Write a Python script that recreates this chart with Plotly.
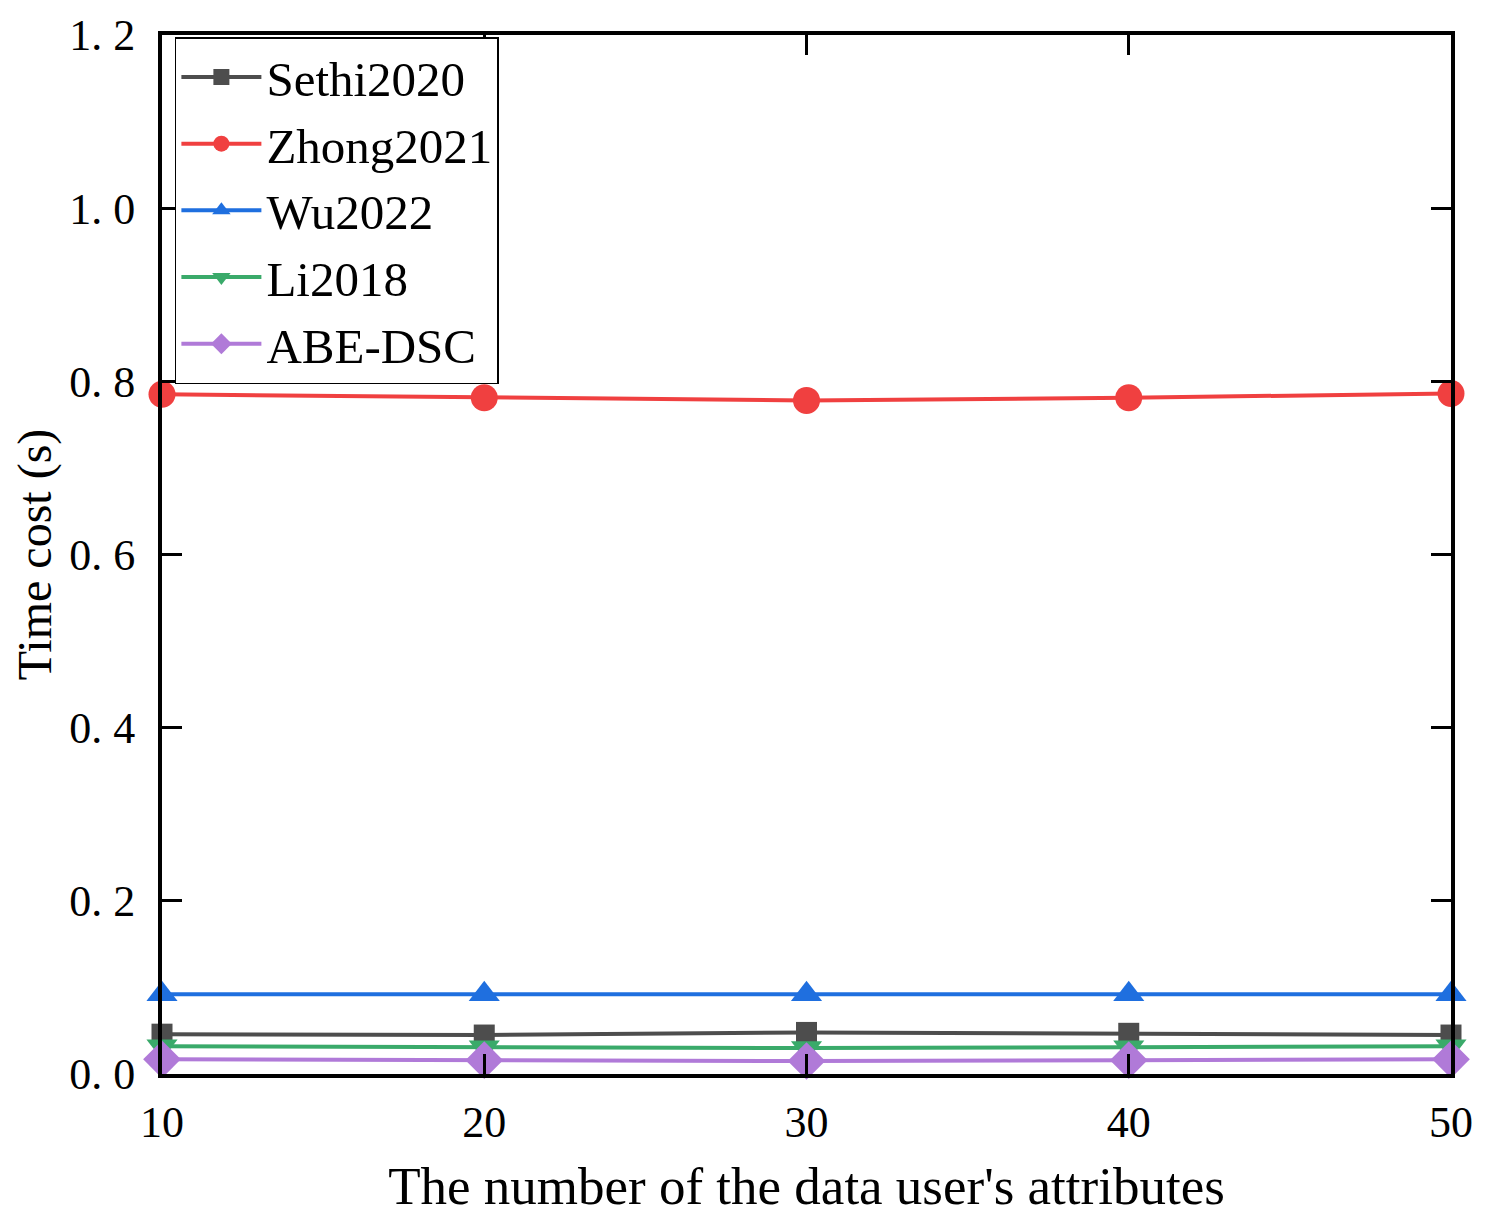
import plotly.graph_objects as go

# number of data user's attributes
attributes = [10, 20, 30, 40, 50]

# time cost (s) per scheme
sethi2020 = [0.046, 0.045, 0.048, 0.047, 0.045]
zhong2021 = [0.785, 0.781, 0.778, 0.781, 0.786]
wu2022 = [0.092, 0.092, 0.092, 0.092, 0.092]
li2018 = [0.032, 0.031, 0.030, 0.031, 0.032]
abe_dsc = [0.017, 0.016, 0.015, 0.016, 0.017]

y_ticks = [0, 0.2, 0.4, 0.6, 0.8, 1.0, 1.2]
y_ticklabels = ["0. 0", "0. 2", "0. 4", "0. 6", "0. 8", "1. 0", "1. 2"]

series = [
    ("Sethi2020", sethi2020, "#4d4d4d", "square", 21),
    ("Zhong2021", zhong2021, "#f04040", "circle", 27),
    ("Wu2022", wu2022, "#1f6fdf", "triangle-up", 27),
    ("Li2018", li2018, "#3aaa6a", "triangle-down", 27),
    ("ABE-DSC", abe_dsc, "#b07ad8", "diamond", 29),
]

fig = go.Figure()
for name, vals, color, symbol, size in series:
    fig.add_trace(go.Scatter(
        x=attributes, y=vals, name=name, mode="lines+markers",
        line=dict(color=color, width=4),
        marker=dict(symbol=symbol, size=size, color=color),
        cliponaxis=False,
    ))

font = "Liberation Serif, Times New Roman, serif"
axis_common = dict(
    showline=True, linecolor="black", linewidth=4, mirror="ticks",
    ticks="inside", ticklen=20, tickwidth=3, tickcolor="black",
    showgrid=False, zeroline=False, automargin=False,
    tickfont=dict(family=font, size=44, color="black"),
)

# the page body adds ~8px offset, so margins are shifted to compensate
fig.update_layout(
    width=1491, height=1227,
    plot_bgcolor="white", paper_bgcolor="white",
    margin=dict(l=154, r=48, t=27, b=161),
    font=dict(family=font, color="black"),
    xaxis=dict(
        range=[10, 50], tickvals=attributes,
        ticklabelstandoff=6,
        title=dict(text="The number of the data user's attributes",
                   font=dict(family=font, size=53), standoff=22),
        **axis_common,
    ),
    yaxis=dict(
        range=[0, 1.2], tickvals=y_ticks, ticktext=y_ticklabels,
        ticklabelstandoff=14,
        title=dict(text="Time cost (s)", font=dict(family=font, size=48), standoff=22),
        **axis_common,
    ),
    legend=dict(
        x=0.01, y=0.998, xanchor="left", yanchor="top",
        bgcolor="white", bordercolor="black", borderwidth=1.5,
        font=dict(family=font, size=49, color="black"),
        itemwidth=80, tracegroupgap=0,
    ),
)

fig.write_html("out.html")
